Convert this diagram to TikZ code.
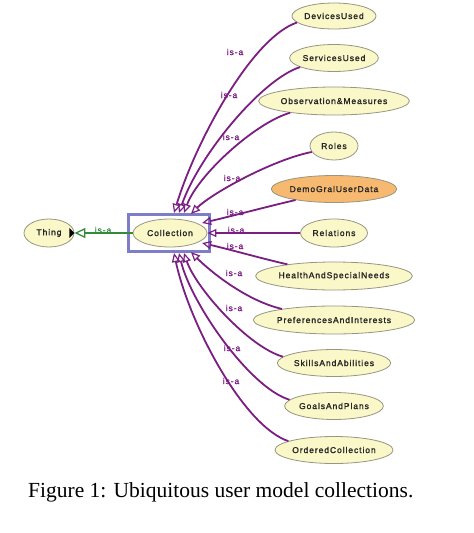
\documentclass[tikz,border=0pt]{standalone}
\usepackage{fontspec}
\setmainfont{Liberation Serif}
\newfontfamily\nodefont[LetterSpace=11,FakeBold=1.5]{Liberation Sans}
\usetikzlibrary{shapes.geometric,arrows.meta}
\definecolor{isapurple}{RGB}{122,30,130}
\definecolor{isagreen}{RGB}{50,140,60}
\definecolor{boxblue}{RGB}{125,125,200}
\definecolor{ellfill}{RGB}{250,247,200}
\definecolor{orangefill}{RGB}{247,184,112}
\definecolor{ellborder}{RGB}{150,150,130}
\begin{document}
\begin{tikzpicture}[x=1pt,y=-1pt,
  cls/.style={ellipse, draw=ellborder, line width=0.8pt, fill=ellfill, inner sep=0pt,
    minimum height=27pt, text=black!85, font=\nodefont\fontsize{8.5}{10}\selectfont},
  isa/.style={draw=isapurple, line width=1.8pt,
    -{Triangle[open,length=9pt,width=8pt,line width=1.2pt]}},
  isag/.style={draw=isagreen, line width=2pt,
    -{Triangle[open,length=11pt,width=10pt,line width=1.3pt]}},
  lbl/.style={text=isapurple, font=\nodefont\fontsize{8.5}{9}\selectfont, inner sep=0pt},
  lblg/.style={text=isagreen, font=\nodefont\fontsize{8.5}{9}\selectfont, inner sep=0pt}]
\useasboundingbox (0,0) rectangle (474,533);

% nodes
\node[cls, minimum width=50pt, minimum height=28pt] (thing) at (49,233) {Thing};
\node[cls, minimum width=74pt, minimum height=28pt] (coll) at (170,233) {Collection};
\node[draw=boxblue, line width=3.2pt, minimum width=81pt, minimum height=37pt, inner sep=0pt] (collbox) at (169,233) {};

\node[cls, minimum width=84pt, minimum height=26pt] (dev) at (334,16) {DevicesUsed};
\node[cls, minimum width=87pt] (serv) at (334,58) {ServicesUsed};
\node[cls, minimum width=134pt, minimum height=28pt] (obs) at (334,101) {Observation\&Measures};
\node[cls, minimum width=48pt, minimum height=28pt] (roles) at (334,146) {Roles};
\node[cls, fill=orangefill, minimum width=117pt] (demo) at (334,189) {DemoGralUserData};
\node[cls, minimum width=67pt, minimum height=28pt] (rel) at (334,233) {Relations};
\node[cls, minimum width=144pt, minimum height=28pt] (health) at (334,276) {HealthAndSpecialNeeds};
\node[cls, minimum width=140pt, minimum height=28pt] (pref) at (334,320) {PreferencesAndInterests};
\node[cls, minimum width=105pt] (skills) at (334,363) {SkillsAndAbilities};
\node[cls, minimum width=97pt] (goals) at (334,406) {GoalsAndPlans};
\node[cls, minimum width=113pt] (ord) at (334,450) {OrderedCollection};

% black expand marker on Thing
\fill[black] ([xshift=-5pt,yshift=5pt]thing.east) -- (thing.east) -- ([xshift=-5pt,yshift=-5pt]thing.east) -- cycle;

% green is-a
\draw[isag] (coll.west) -- (thing.east);
\node[lblg] (lg) at (103,230) {is-a};

% purple is-a connectors
\draw[isa] (dev.190) .. controls +(-45,15) and +(22,-72) .. ([xshift=5pt]collbox.north);
\draw[isa] (serv.195) .. controls +(-38,12) and +(20,-58) .. ([xshift=10pt]collbox.north);
\draw[isa] (obs.195) .. controls +(-35,10) and +(14,-38) .. ([xshift=15pt]collbox.north);
\draw[isa] (roles.195) .. controls +(-40,8) and +(20,-20) .. ([xshift=22pt,yshift=-1pt]collbox.north);
\draw[isa] (demo.196) .. controls +(-30,7) and +(30,-7) .. ([xshift=-9pt,yshift=10pt]collbox.east);
\draw[isa] (rel.west) -- (coll.east);
\draw[isa] (health.166) .. controls +(-30,-7) and +(30,7) .. ([xshift=-9pt,yshift=-10pt]collbox.east);
\draw[isa] (pref.168) .. controls +(-35,-8) and +(20,20) .. ([xshift=22pt,yshift=1pt]collbox.south);
\draw[isa] (skills.173) .. controls +(-35,-10) and +(12,35) .. ([xshift=15pt]collbox.south);
\draw[isa] (goals.172) .. controls +(-40,-12) and +(12,50) .. ([xshift=10pt]collbox.south);
\draw[isa] (ord.169) .. controls +(-45,-15) and +(15,70) .. ([xshift=5pt]collbox.south);

% labels
\node[lbl] (l1) at (235,52) {is-a};
\node[lbl] (l2) at (229,95) {is-a};
\node[lbl] (l3) at (231,137) {is-a};
\node[lbl] (l4) at (232,178) {is-a};
\node[lbl] (l5) at (235,212) {is-a};
\node[lbl] (l6) at (236,230) {is-a};
\node[lbl] (l7) at (235,246) {is-a};
\node[lbl] (l8) at (234,273) {is-a};
\node[lbl] (l9) at (234,308) {is-a};
\node[lbl] (l10) at (232,348) {is-a};
\node[lbl] (l11) at (231,381) {is-a};

% caption
\node[anchor=base west, inner sep=0pt, font=\fontsize{21.5}{24}\selectfont] (cap) at (28,497) {Figure 1: Ubiquitous user model collections.};
\end{tikzpicture}
\end{document}
